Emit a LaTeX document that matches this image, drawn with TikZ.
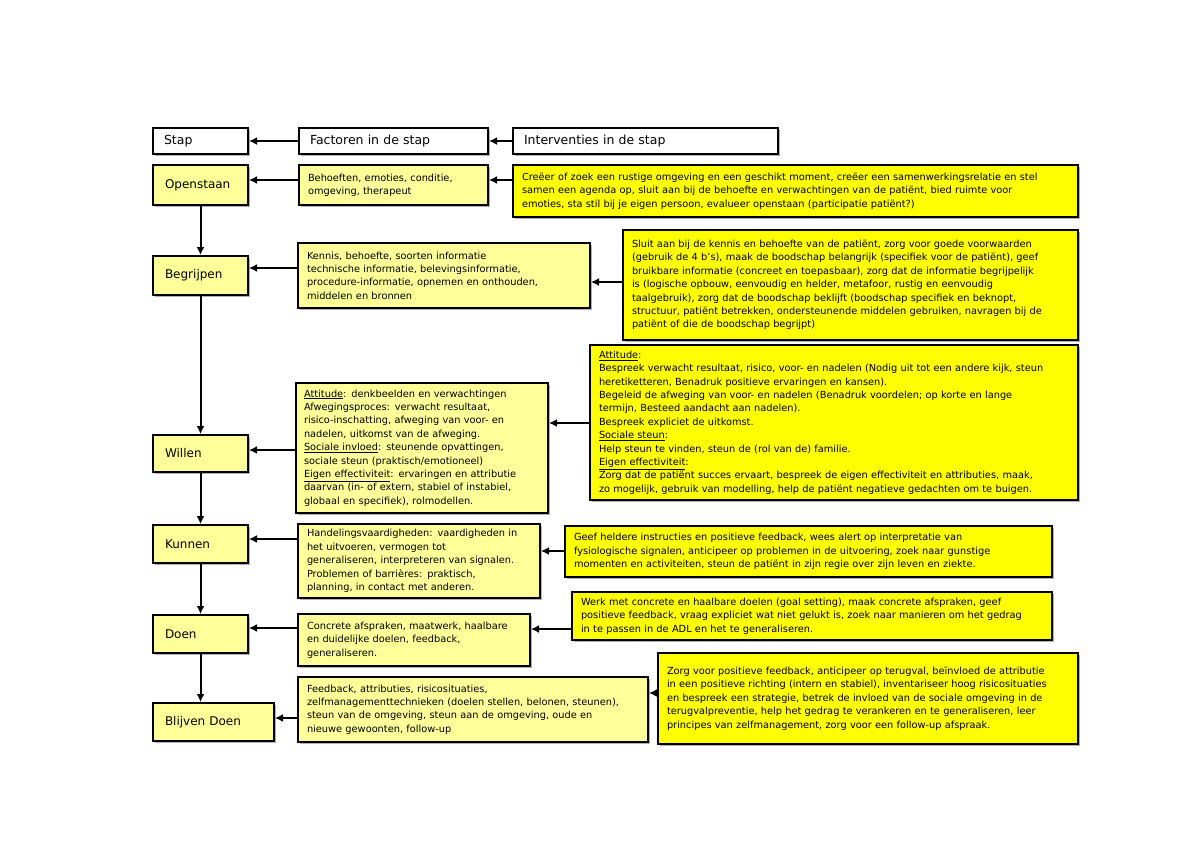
\documentclass[tikz,border=0pt]{standalone}
\usepackage{fontspec}
\setmainfont{DejaVu Sans}
\usetikzlibrary{arrows.meta,shadows}
\definecolor{lightyel}{RGB}{255,255,153}
\definecolor{yel}{RGB}{255,255,0}
\tikzset{
 boxbase/.style={draw=black,line width=2pt,anchor=center,inner ysep=0pt,align=left,
   drop shadow={shadow xshift=1.5pt,shadow yshift=-1.5pt,fill=black!30,opacity=1}},
 headbox/.style={boxbase,fill=white,font=\fontsize{12.5}{15}\selectfont},
 stepbox/.style={boxbase,fill=lightyel,font=\fontsize{12}{14}\selectfont},
 factbox/.style={boxbase,fill=lightyel,font=\fontsize{9.8}{13.4}\selectfont},
 intbox/.style={boxbase,fill=yel,font=\fontsize{9.8}{13.4}\selectfont},
 arr/.style={line width=2pt,-{Latex[length=8pt,width=8pt]}}
}
% #1 style, #2 inset, #3 name, #4 x1, #5 y1, #6 x2, #7 y2, #8 text
\newcommand\mybox[8]{%
 \pgfmathsetmacro\bxcx{(#4+#6)/2}%
 \pgfmathsetmacro\bxcy{(#5+#7)/2}%
 \pgfmathsetmacro\bxw{#6-#4}%
 \pgfmathsetmacro\bxh{#7-#5}%
 \pgfmathsetmacro\bxtw{#6-#4-2*#2}%
 \node[#1,inner xsep=#2pt,minimum width=\bxw pt,minimum height=\bxh pt,text width=\bxtw pt] (#3) at (\bxcx,\bxcy) {#8};%
}
\begin{document}
\begin{tikzpicture}[x=1pt,y=-1pt]
\fill[white] (0,0) rectangle (1200,849);
\useasboundingbox (0,0) rectangle (1200,849);
% header
\mybox{headbox}{11}{hst}{153}{128}{248}{154}{Stap}
\mybox{headbox}{11}{hfa}{299}{128}{488}{154}{Factoren in de stap}
\mybox{headbox}{11}{hin}{513}{128}{778}{154}{Interventies in de stap}
% steps
\mybox{stepbox}{12}{op}{153}{165}{248}{205}{Openstaan\\[3pt]}
\mybox{stepbox}{12}{be}{153}{256}{248}{295}{Begrijpen\\[3pt]}
\mybox{stepbox}{12}{wi}{153}{435}{248}{472}{Willen\\[3pt]}
\mybox{stepbox}{12}{ku}{153}{525}{248}{563}{Kunnen\\[3pt]}
\mybox{stepbox}{12}{do}{153}{615}{248}{653}{Doen\\[3pt]}
\mybox{stepbox}{12}{bd}{153}{703}{274}{741}{Blijven Doen\\[3pt]}
% factors
\mybox{factbox}{9}{fop}{299}{165}{488}{205}{Behoeften, emoties, conditie,\\omgeving, therapeut}
\mybox{factbox}{9}{fbe}{298}{243}{590}{308}{Kennis, behoefte, soorten informatie\\technische informatie, belevingsinformatie,\\procedure-informatie, opnemen en onthouden,\\middelen en bronnen}
\mybox{factbox}{8}{fwi}{296}{383}{548}{513}{\underline{Attitude}: denkbeelden en verwachtingen\\Afwegingsproces: verwacht resultaat,\\risico-inschatting, afweging van voor- en\\nadelen, uitkomst van de afweging.\\\underline{Sociale invloed}: steunende opvattingen,\\sociale steun (praktisch/emotioneel)\\\underline{Eigen effectiviteit}: ervaringen en attributie\\daarvan (in- of extern, stabiel of instabiel,\\globaal en specifiek), rolmodellen.}
\mybox{factbox}{9}{fku}{298}{524}{540}{598}{Handelingsvaardigheden: vaardigheden in\\het uitvoeren, vermogen tot\\generaliseren, interpreteren van signalen.\\Problemen of barrières: praktisch,\\planning, in contact met anderen.}
\mybox{factbox}{9}{fdo}{298}{614}{530}{666}{Concrete afspraken, maatwerk, haalbare\\en duidelijke doelen, feedback,\\generaliseren.}
\mybox{factbox}{9}{fbd}{298}{677}{648}{742}{Feedback, attributies, risicosituaties,\\zelfmanagementtechnieken (doelen stellen, belonen, steunen),\\steun van de omgeving, steun aan de omgeving, oude en\\nieuwe gewoonten, follow-up}
% interventions
\mybox{intbox}{9}{iop}{513}{165}{1078}{217}{Creëer of zoek een rustige omgeving en een geschikt moment, creëer een samenwerkingsrelatie en stel\\samen een agenda op, sluit aan bij de behoefte en verwachtingen van de patiënt, bied ruimte voor\\emoties, sta stil bij je eigen persoon, evalueer openstaan (participatie patiënt?)}
\mybox{intbox}{9}{ibe}{623}{230}{1078}{340}{Sluit aan bij de kennis en behoefte van de patiënt, zorg voor goede voorwaarden\\(gebruik de 4 b’s), maak de boodschap belangrijk (specifiek voor de patiënt), geef\\bruikbare informatie (concreet en toepasbaar), zorg dat de informatie begrijpelijk\\is (logische opbouw, eenvoudig en helder, metafoor, rustig en eenvoudig\\taalgebruik), zorg dat de boodschap beklijft (boodschap specifiek en beknopt,\\structuur, patiënt betrekken, ondersteunende middelen gebruiken, navragen bij de\\patiënt of die de boodschap begrijpt)}
\mybox{intbox}{9}{iwi}{590}{345}{1078}{500}{\underline{Attitude}:\\Bespreek verwacht resultaat, risico, voor- en nadelen (Nodig uit tot een andere kijk, steun\\heretiketteren, Benadruk positieve ervaringen en kansen).\\Begeleid de afweging van voor- en nadelen (Benadruk voordelen; op korte en lange\\termijn, Besteed aandacht aan nadelen).\\Bespreek expliciet de uitkomst.\\\underline{Sociale steun}:\\Help steun te vinden, steun de (rol van de) familie.\\\underline{Eigen effectiviteit}:\\Zorg dat de patiënt succes ervaart, bespreek de eigen effectiviteit en attributies, maak,\\zo mogelijk, gebruik van modelling, help de patiënt negatieve gedachten om te buigen.}
\mybox{intbox}{9}{iku}{565}{526}{1052}{577}{Geef heldere instructies en positieve feedback, wees alert op interpretatie van\\fysiologische signalen, anticipeer op problemen in de uitvoering, zoek naar gunstige\\momenten en activiteiten, steun de patiënt in zijn regie over zijn leven en ziekte.}
\mybox{intbox}{9}{ido}{572}{592}{1052}{640}{Werk met concrete en haalbare doelen (goal setting), maak concrete afspraken, geef\\positieve feedback, vraag expliciet wat niet gelukt is, zoek naar manieren om het gedrag\\in te passen in de ADL en het te generaliseren.}
\mybox{intbox}{9}{ibd}{658}{653}{1078}{744}{Zorg voor positieve feedback, anticipeer op terugval, beïnvloed de attributie\\in een positieve richting (intern en stabiel), inventariseer hoog risicosituaties\\en bespreek een strategie, betrek de invloed van de sociale omgeving in de\\terugvalpreventie, help het gedrag te verankeren en te generaliseren, leer\\principes van zelfmanagement, zorg voor een follow-up afspraak.\\[10pt]}
% header arrows
\draw[arr] (hfa.west) -- (hst.east);
\draw[arr] (hin.west) -- (hfa.east);
% row arrows
\draw[arr] (fop.west |- 0,180) -- (op.east |- 0,180);
\draw[arr] (iop.west |- 0,180) -- (fop.east |- 0,180);
\draw[arr] (fbe.west |- 0,268) -- (be.east |- 0,268);
\draw[arr] (ibe.west |- 0,282) -- (fbe.east |- 0,282);
\draw[arr] (fwi.west |- 0,450) -- (wi.east |- 0,450);
\draw[arr] (iwi.west |- 0,423) -- (fwi.east |- 0,423);
\draw[arr] (fku.west |- 0,539) -- (ku.east |- 0,539);
\draw[arr] (iku.west |- 0,551) -- (fku.east |- 0,551);
\draw[arr] (fdo.west |- 0,628) -- (do.east |- 0,628);
\draw[arr] (ido.west |- 0,629) -- (fdo.east |- 0,629);
\draw[arr] (fbd.west |- 0,718) -- (bd.east |- 0,718);
\draw[arr] (ibd.west |- 0,693) -- (fbd.east |- 0,693);
% vertical arrows
\draw[arr] (op.south) -- (be.north);
\draw[arr] (be.south) -- (wi.north);
\draw[arr] (wi.south) -- (ku.north);
\draw[arr] (ku.south) -- (do.north);
\draw[arr] (do.south) -- (do.south |- bd.north);
\end{tikzpicture}
\end{document}
